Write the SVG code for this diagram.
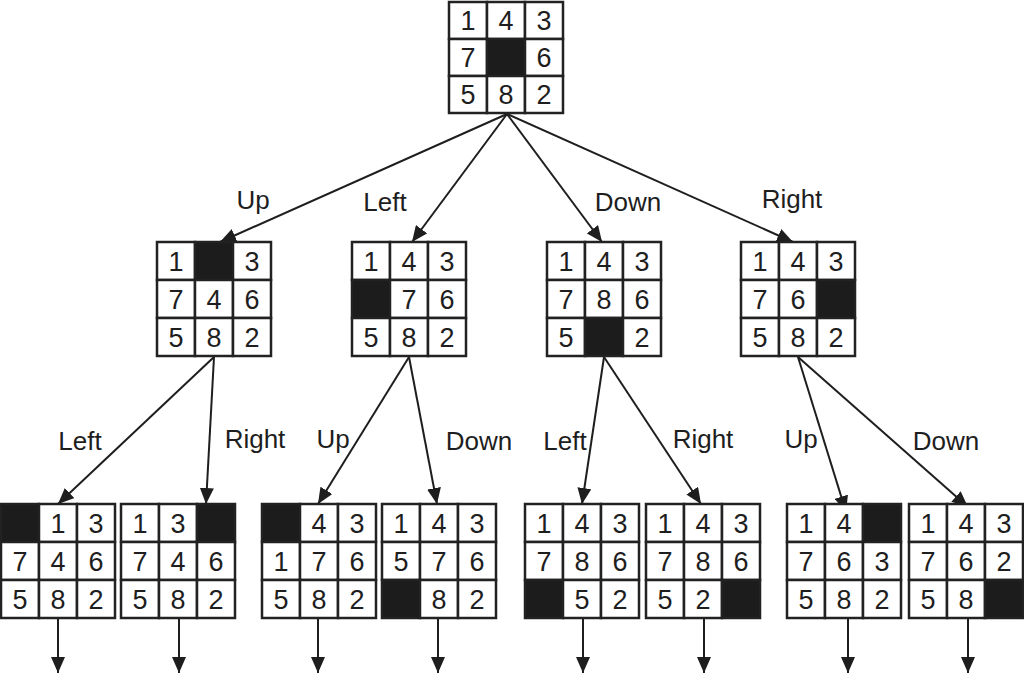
<svg xmlns="http://www.w3.org/2000/svg" width="1024" height="674" viewBox="0 0 1024 674">
<style>
.c{fill:#fff;stroke:#222;stroke-width:2.5}
.b{fill:#1c1c1c;stroke:#222;stroke-width:2.5}
.d{font-family:"Liberation Sans",Arial,sans-serif;font-size:27px;fill:#1e1e1e;text-anchor:middle}
.l{font-family:"Liberation Sans",Arial,sans-serif;font-size:26px;fill:#1e1e1e;text-anchor:middle}
.e{fill:none;stroke:#1e1e1e;stroke-width:2}
</style>
<defs>
<marker id="ah" viewBox="0 0 16 14" refX="16" refY="7" markerWidth="16" markerHeight="14" markerUnits="userSpaceOnUse" orient="auto">
<path d="M0,0 L16,7 L0,14 z" fill="#1e1e1e"/>
</marker>
</defs>
<rect width="1024" height="674" fill="#fff"/>

<g id="connectors">
<line class="e" x1="507" y1="114" x2="220" y2="242" marker-end="url(#ah)"/>
<line class="e" x1="507" y1="114" x2="412" y2="242" marker-end="url(#ah)"/>
<line class="e" x1="507" y1="114" x2="602" y2="242" marker-end="url(#ah)"/>
<line class="e" x1="507" y1="114" x2="793" y2="242" marker-end="url(#ah)"/>
<line class="e" x1="214" y1="357" x2="58" y2="504" marker-end="url(#ah)"/>
<line class="e" x1="214" y1="357" x2="206" y2="504" marker-end="url(#ah)"/>
<line class="e" x1="409" y1="357" x2="318" y2="504" marker-end="url(#ah)"/>
<line class="e" x1="409" y1="357" x2="437" y2="504" marker-end="url(#ah)"/>
<line class="e" x1="604" y1="357" x2="582" y2="504" marker-end="url(#ah)"/>
<line class="e" x1="604" y1="357" x2="701" y2="504" marker-end="url(#ah)"/>
<line class="e" x1="798" y1="357" x2="846" y2="512" marker-end="url(#ah)"/>
<line class="e" x1="798" y1="357" x2="968" y2="507" marker-end="url(#ah)"/>
<line class="e" x1="58" y1="619" x2="58" y2="673" marker-end="url(#ah)"/>
<line class="e" x1="179" y1="619" x2="179" y2="673" marker-end="url(#ah)"/>
<line class="e" x1="318" y1="619" x2="318" y2="673" marker-end="url(#ah)"/>
<line class="e" x1="438" y1="619" x2="438" y2="673" marker-end="url(#ah)"/>
<line class="e" x1="583" y1="619" x2="583" y2="673" marker-end="url(#ah)"/>
<line class="e" x1="704" y1="619" x2="704" y2="673" marker-end="url(#ah)"/>
<line class="e" x1="848" y1="619" x2="848" y2="673" marker-end="url(#ah)"/>
<line class="e" x1="968" y1="619" x2="968" y2="673" marker-end="url(#ah)"/>
</g>

<g id="labels">
<text class="l" x="253" y="209">Up</text>
<text class="l" x="385" y="211">Left</text>
<text class="l" x="628" y="211">Down</text>
<text class="l" x="792" y="208">Right</text>
<text class="l" x="80" y="450">Left</text>
<text class="l" x="255" y="448">Right</text>
<text class="l" x="333" y="448">Up</text>
<text class="l" x="479" y="450">Down</text>
<text class="l" x="565" y="450">Left</text>
<text class="l" x="703" y="448">Right</text>
<text class="l" x="801" y="448">Up</text>
<text class="l" x="946" y="450">Down</text>
</g>

<g id="root">
<rect class="c" x="449" y="2" width="38" height="37"/><rect class="c" x="487" y="2" width="38" height="37"/><rect class="c" x="525" y="2" width="38" height="37"/>
<rect class="c" x="449" y="39" width="38" height="37"/><rect class="b" x="487" y="39" width="38" height="37"/><rect class="c" x="525" y="39" width="38" height="37"/>
<rect class="c" x="449" y="76" width="38" height="37"/><rect class="c" x="487" y="76" width="38" height="37"/><rect class="c" x="525" y="76" width="38" height="37"/>
<text class="d" x="468" y="30">1</text><text class="d" x="506" y="30">4</text><text class="d" x="544" y="30">3</text>
<text class="d" x="468" y="67">7</text><text class="d" x="544" y="67">6</text>
<text class="d" x="468" y="104">5</text><text class="d" x="506" y="104">8</text><text class="d" x="544" y="104">2</text>
</g>

<g id="up">
<rect class="c" x="157" y="242" width="38" height="38"/><rect class="b" x="195" y="242" width="38" height="38"/><rect class="c" x="233" y="242" width="38" height="38"/>
<rect class="c" x="157" y="280" width="38" height="38"/><rect class="c" x="195" y="280" width="38" height="38"/><rect class="c" x="233" y="280" width="38" height="38"/>
<rect class="c" x="157" y="318" width="38" height="38"/><rect class="c" x="195" y="318" width="38" height="38"/><rect class="c" x="233" y="318" width="38" height="38"/>
<text class="d" x="176" y="271">1</text><text class="d" x="252" y="271">3</text>
<text class="d" x="176" y="309">7</text><text class="d" x="214" y="309">4</text><text class="d" x="252" y="309">6</text>
<text class="d" x="176" y="347">5</text><text class="d" x="214" y="347">8</text><text class="d" x="252" y="347">2</text>
</g>

<g id="left">
<rect class="c" x="352" y="242" width="38" height="38"/><rect class="c" x="390" y="242" width="38" height="38"/><rect class="c" x="428" y="242" width="38" height="38"/>
<rect class="b" x="352" y="280" width="38" height="38"/><rect class="c" x="390" y="280" width="38" height="38"/><rect class="c" x="428" y="280" width="38" height="38"/>
<rect class="c" x="352" y="318" width="38" height="38"/><rect class="c" x="390" y="318" width="38" height="38"/><rect class="c" x="428" y="318" width="38" height="38"/>
<text class="d" x="371" y="271">1</text><text class="d" x="409" y="271">4</text><text class="d" x="447" y="271">3</text>
<text class="d" x="409" y="309">7</text><text class="d" x="447" y="309">6</text>
<text class="d" x="371" y="347">5</text><text class="d" x="409" y="347">8</text><text class="d" x="447" y="347">2</text>
</g>

<g id="down">
<rect class="c" x="547" y="242" width="38" height="38"/><rect class="c" x="585" y="242" width="38" height="38"/><rect class="c" x="623" y="242" width="38" height="38"/>
<rect class="c" x="547" y="280" width="38" height="38"/><rect class="c" x="585" y="280" width="38" height="38"/><rect class="c" x="623" y="280" width="38" height="38"/>
<rect class="c" x="547" y="318" width="38" height="38"/><rect class="b" x="585" y="318" width="38" height="38"/><rect class="c" x="623" y="318" width="38" height="38"/>
<text class="d" x="566" y="271">1</text><text class="d" x="604" y="271">4</text><text class="d" x="642" y="271">3</text>
<text class="d" x="566" y="309">7</text><text class="d" x="604" y="309">8</text><text class="d" x="642" y="309">6</text>
<text class="d" x="566" y="347">5</text><text class="d" x="642" y="347">2</text>
</g>

<g id="right">
<rect class="c" x="741" y="242" width="38" height="38"/><rect class="c" x="779" y="242" width="38" height="38"/><rect class="c" x="817" y="242" width="38" height="38"/>
<rect class="c" x="741" y="280" width="38" height="38"/><rect class="c" x="779" y="280" width="38" height="38"/><rect class="b" x="817" y="280" width="38" height="38"/>
<rect class="c" x="741" y="318" width="38" height="38"/><rect class="c" x="779" y="318" width="38" height="38"/><rect class="c" x="817" y="318" width="38" height="38"/>
<text class="d" x="760" y="271">1</text><text class="d" x="798" y="271">4</text><text class="d" x="836" y="271">3</text>
<text class="d" x="760" y="309">7</text><text class="d" x="798" y="309">6</text>
<text class="d" x="760" y="347">5</text><text class="d" x="798" y="347">8</text><text class="d" x="836" y="347">2</text>
</g>

<g id="up-left">
<rect class="b" x="1" y="504" width="38" height="38"/><rect class="c" x="39" y="504" width="38" height="38"/><rect class="c" x="77" y="504" width="38" height="38"/>
<rect class="c" x="1" y="542" width="38" height="38"/><rect class="c" x="39" y="542" width="38" height="38"/><rect class="c" x="77" y="542" width="38" height="38"/>
<rect class="c" x="1" y="580" width="38" height="38"/><rect class="c" x="39" y="580" width="38" height="38"/><rect class="c" x="77" y="580" width="38" height="38"/>
<text class="d" x="58" y="533">1</text><text class="d" x="96" y="533">3</text>
<text class="d" x="20" y="571">7</text><text class="d" x="58" y="571">4</text><text class="d" x="96" y="571">6</text>
<text class="d" x="20" y="609">5</text><text class="d" x="58" y="609">8</text><text class="d" x="96" y="609">2</text>
</g>

<g id="up-right">
<rect class="c" x="121" y="504" width="38" height="38"/><rect class="c" x="159" y="504" width="38" height="38"/><rect class="b" x="197" y="504" width="38" height="38"/>
<rect class="c" x="121" y="542" width="38" height="38"/><rect class="c" x="159" y="542" width="38" height="38"/><rect class="c" x="197" y="542" width="38" height="38"/>
<rect class="c" x="121" y="580" width="38" height="38"/><rect class="c" x="159" y="580" width="38" height="38"/><rect class="c" x="197" y="580" width="38" height="38"/>
<text class="d" x="140" y="533">1</text><text class="d" x="178" y="533">3</text>
<text class="d" x="140" y="571">7</text><text class="d" x="178" y="571">4</text><text class="d" x="216" y="571">6</text>
<text class="d" x="140" y="609">5</text><text class="d" x="178" y="609">8</text><text class="d" x="216" y="609">2</text>
</g>

<g id="left-up">
<rect class="b" x="262" y="504" width="38" height="38"/><rect class="c" x="300" y="504" width="38" height="38"/><rect class="c" x="338" y="504" width="38" height="38"/>
<rect class="c" x="262" y="542" width="38" height="38"/><rect class="c" x="300" y="542" width="38" height="38"/><rect class="c" x="338" y="542" width="38" height="38"/>
<rect class="c" x="262" y="580" width="38" height="38"/><rect class="c" x="300" y="580" width="38" height="38"/><rect class="c" x="338" y="580" width="38" height="38"/>
<text class="d" x="319" y="533">4</text><text class="d" x="357" y="533">3</text>
<text class="d" x="281" y="571">1</text><text class="d" x="319" y="571">7</text><text class="d" x="357" y="571">6</text>
<text class="d" x="281" y="609">5</text><text class="d" x="319" y="609">8</text><text class="d" x="357" y="609">2</text>
</g>

<g id="left-down">
<rect class="c" x="382" y="504" width="38" height="38"/><rect class="c" x="420" y="504" width="38" height="38"/><rect class="c" x="458" y="504" width="38" height="38"/>
<rect class="c" x="382" y="542" width="38" height="38"/><rect class="c" x="420" y="542" width="38" height="38"/><rect class="c" x="458" y="542" width="38" height="38"/>
<rect class="b" x="382" y="580" width="38" height="38"/><rect class="c" x="420" y="580" width="38" height="38"/><rect class="c" x="458" y="580" width="38" height="38"/>
<text class="d" x="401" y="533">1</text><text class="d" x="439" y="533">4</text><text class="d" x="477" y="533">3</text>
<text class="d" x="401" y="571">5</text><text class="d" x="439" y="571">7</text><text class="d" x="477" y="571">6</text>
<text class="d" x="439" y="609">8</text><text class="d" x="477" y="609">2</text>
</g>

<g id="down-left">
<rect class="c" x="525" y="504" width="38" height="38"/><rect class="c" x="563" y="504" width="38" height="38"/><rect class="c" x="601" y="504" width="38" height="38"/>
<rect class="c" x="525" y="542" width="38" height="38"/><rect class="c" x="563" y="542" width="38" height="38"/><rect class="c" x="601" y="542" width="38" height="38"/>
<rect class="b" x="525" y="580" width="38" height="38"/><rect class="c" x="563" y="580" width="38" height="38"/><rect class="c" x="601" y="580" width="38" height="38"/>
<text class="d" x="544" y="533">1</text><text class="d" x="582" y="533">4</text><text class="d" x="620" y="533">3</text>
<text class="d" x="544" y="571">7</text><text class="d" x="582" y="571">8</text><text class="d" x="620" y="571">6</text>
<text class="d" x="582" y="609">5</text><text class="d" x="620" y="609">2</text>
</g>

<g id="down-right">
<rect class="c" x="646" y="504" width="38" height="38"/><rect class="c" x="684" y="504" width="38" height="38"/><rect class="c" x="722" y="504" width="38" height="38"/>
<rect class="c" x="646" y="542" width="38" height="38"/><rect class="c" x="684" y="542" width="38" height="38"/><rect class="c" x="722" y="542" width="38" height="38"/>
<rect class="c" x="646" y="580" width="38" height="38"/><rect class="c" x="684" y="580" width="38" height="38"/><rect class="b" x="722" y="580" width="38" height="38"/>
<text class="d" x="665" y="533">1</text><text class="d" x="703" y="533">4</text><text class="d" x="741" y="533">3</text>
<text class="d" x="665" y="571">7</text><text class="d" x="703" y="571">8</text><text class="d" x="741" y="571">6</text>
<text class="d" x="665" y="609">5</text><text class="d" x="703" y="609">2</text>
</g>

<g id="right-up">
<rect class="c" x="787" y="504" width="38" height="38"/><rect class="c" x="825" y="504" width="38" height="38"/><rect class="b" x="863" y="504" width="38" height="38"/>
<rect class="c" x="787" y="542" width="38" height="38"/><rect class="c" x="825" y="542" width="38" height="38"/><rect class="c" x="863" y="542" width="38" height="38"/>
<rect class="c" x="787" y="580" width="38" height="38"/><rect class="c" x="825" y="580" width="38" height="38"/><rect class="c" x="863" y="580" width="38" height="38"/>
<text class="d" x="806" y="533">1</text><text class="d" x="844" y="533">4</text>
<text class="d" x="806" y="571">7</text><text class="d" x="844" y="571">6</text><text class="d" x="882" y="571">3</text>
<text class="d" x="806" y="609">5</text><text class="d" x="844" y="609">8</text><text class="d" x="882" y="609">2</text>
</g>

<g id="right-down">
<rect class="c" x="909" y="504" width="38" height="38"/><rect class="c" x="947" y="504" width="38" height="38"/><rect class="c" x="985" y="504" width="38" height="38"/>
<rect class="c" x="909" y="542" width="38" height="38"/><rect class="c" x="947" y="542" width="38" height="38"/><rect class="c" x="985" y="542" width="38" height="38"/>
<rect class="c" x="909" y="580" width="38" height="38"/><rect class="c" x="947" y="580" width="38" height="38"/><rect class="b" x="985" y="580" width="38" height="38"/>
<text class="d" x="928" y="533">1</text><text class="d" x="966" y="533">4</text><text class="d" x="1004" y="533">3</text>
<text class="d" x="928" y="571">7</text><text class="d" x="966" y="571">6</text><text class="d" x="1004" y="571">2</text>
<text class="d" x="928" y="609">5</text><text class="d" x="966" y="609">8</text>
</g>
</svg>
